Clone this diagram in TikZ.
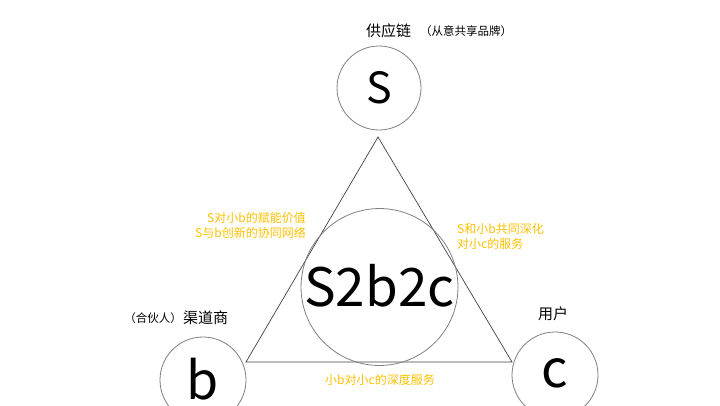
\documentclass[tikz,border=0pt]{standalone}
\usepackage{fontspec}
\setmainfont{Noto Sans CJK SC}
\definecolor{gold}{HTML}{FFC000}
\definecolor{ring}{HTML}{7F7F7F}
\tikzset{
  party/.style={circle,draw=ring,line width=0.8pt,inner sep=0pt},
  role/.style={inner sep=0pt,font=\fontsize{15}{18}\selectfont},
  note/.style={inner sep=0pt,font=\fontsize{11.5}{14}\selectfont},
  value/.style={inner sep=0pt,text=gold,font=\fontsize{12}{15}\selectfont},
  edge/.style={draw=black!75,line width=0.7pt}
}
\begin{document}
\begin{tikzpicture}[x=1pt,y=-1pt]
\useasboundingbox (0,0) rectangle (720,405);
% triangle corners
\coordinate (top) at (378,137);
\coordinate (bl) at (246,362);
\coordinate (br) at (512,362);
\draw[edge] (top) -- (bl) -- (br) -- cycle;
% circles
\node[party,minimum size=84pt] (S) at (379,88) {\fontsize{43}{50}\selectfont\raisebox{2pt}{S}};
\node[party,minimum size=86pt] (b) at (203,380) {\fontsize{52}{60}\selectfont\raisebox{3pt}{b}};
\node[party,minimum size=86pt] (c) at (555,375) {\fontsize{52}{60}\selectfont\raisebox{3pt}{c}};
\node[party,minimum size=149pt] (mid) at (379.5,287) {\fontsize{53}{60}\selectfont\raisebox{4pt}{S2b2c}};
% role labels
\node[role] (sl) at (388.5,31) {供应链};
\node[note,anchor=west] (sn) at (420,31) {（从意共享品牌）};
\node[role,anchor=west] (bl1) at (183,318) {渠道商};
\node[note,anchor=east] (bn) at (182,318) {（合伙人）};
\node[role] (cl) at (553,314) {用户};
% value labels
\node[value,anchor=east,align=right] (v1) at (306,225) {S对小b的赋能价值\\S与b创新的协同网络};
\node[value,anchor=west,align=left] (v2) at (457,236) {S和小b共同深化\\对小c的服务};
\node[value] (v3) at (380,380) {小b对小c的深度服务};
\end{tikzpicture}
\end{document}
